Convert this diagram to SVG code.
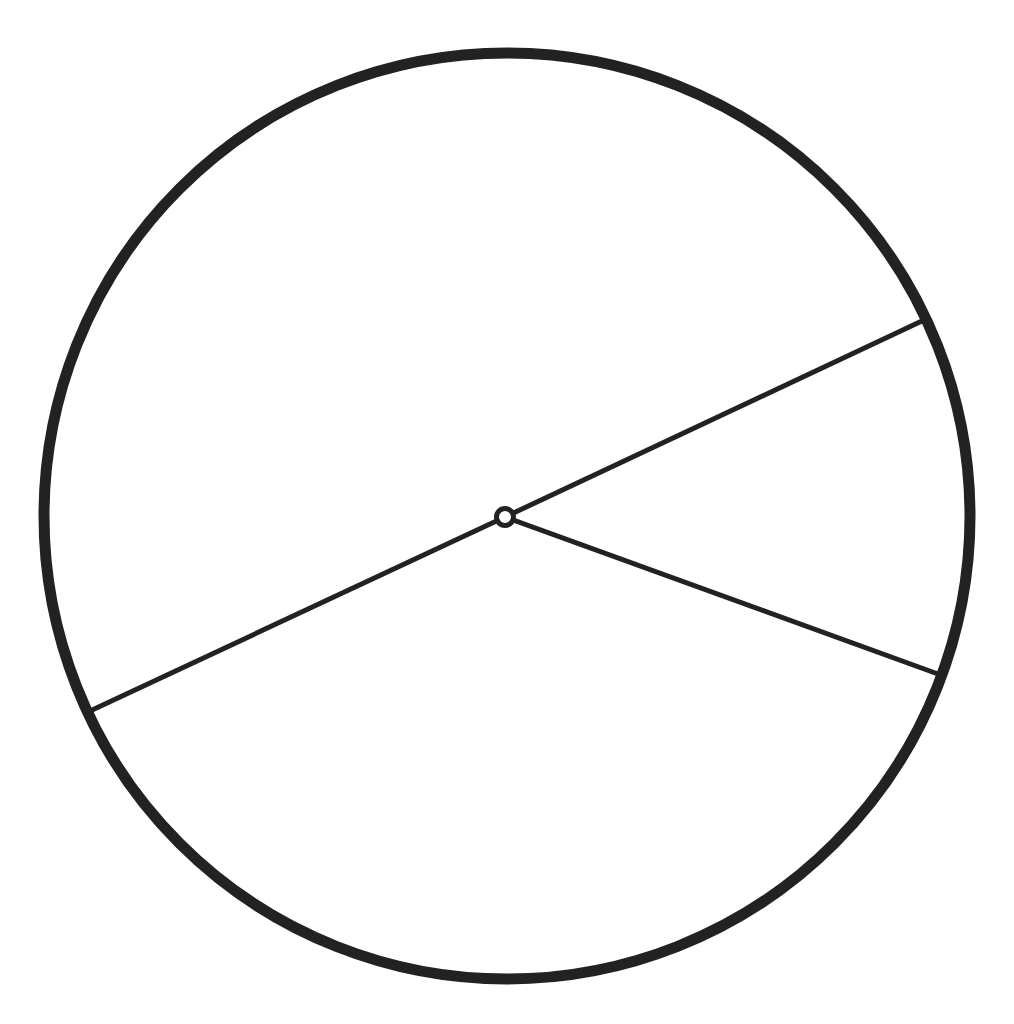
<svg xmlns="http://www.w3.org/2000/svg" width="1014" height="1024" viewBox="0 0 1014 1024">
<style>
.rim{fill:none;stroke:#222;stroke-width:11}
.ln{stroke:#222;stroke-width:5;fill:none}
.hub{fill:#fff;stroke:#222;stroke-width:5}
</style>
<rect width="1014" height="1024" fill="#fff"/>
<g id="connectors">
<line class="ln" x1="505" y1="517" x2="924" y2="320"/>
<line class="ln" x1="505" y1="517" x2="938" y2="674"/>
<line class="ln" x1="505" y1="517" x2="90" y2="711"/>
</g>
<g id="rim"><circle class="rim" cx="507" cy="516" r="463"/></g>
<g id="hub"><circle class="hub" cx="505" cy="517" r="8.5"/></g>
</svg>
